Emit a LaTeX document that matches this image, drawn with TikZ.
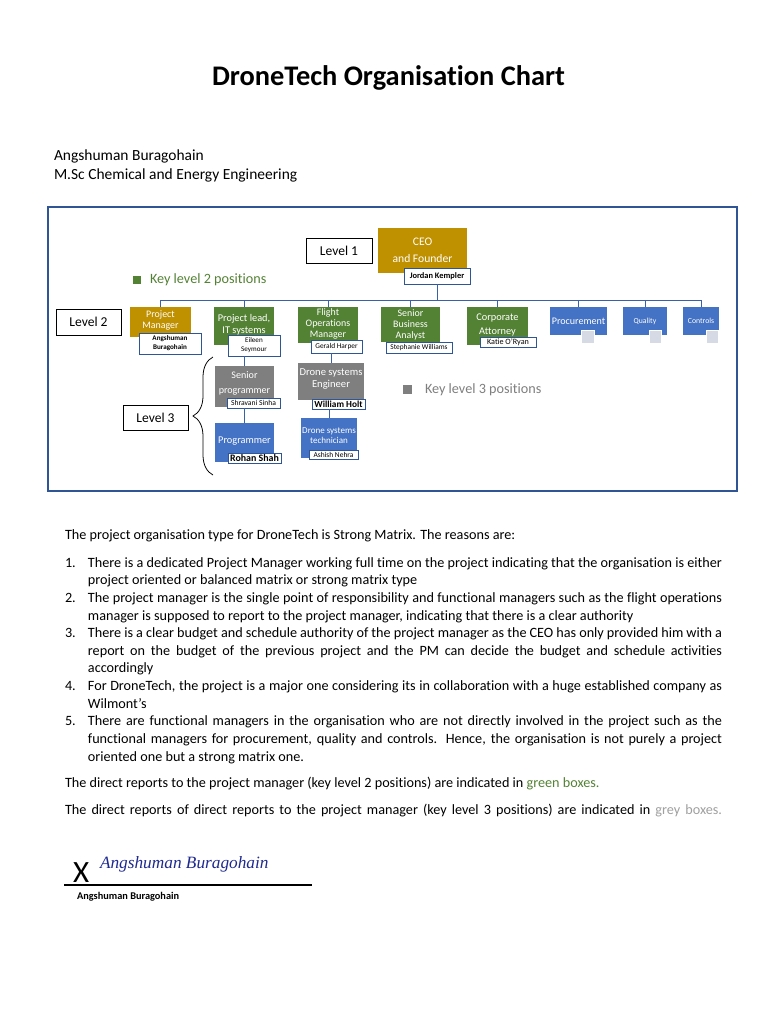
\documentclass[tikz,border=0pt]{standalone}
\usepackage{fontspec}
\setmainfont{Carlito}[Ligatures={TeX,NoCommon}]
\newfontfamily\signfont{Liberation Serif}
\usetikzlibrary{decorations.pathreplacing}
\definecolor{ceogold}{HTML}{BF9000}
\definecolor{keygreen}{HTML}{548235}
\definecolor{fnblue}{HTML}{4472C4}
\definecolor{keygrey}{HTML}{7F7F7F}
\definecolor{framblue}{HTML}{2F5597}
\definecolor{softgrey}{HTML}{A0A0A0}
\definecolor{inkblue}{HTML}{1F2A8F}
\definecolor{tabgrey}{HTML}{D6DAE4}
\begin{document}
\begin{tikzpicture}[x=0.775pt, y=-0.775pt,
  every node/.style={inner sep=0pt, outer sep=0pt},
  sz/.style 2 args={minimum width=#1*0.775pt, minimum height=#2*0.775pt},
  fs/.style 2 args={font=\fontsize{#1}{#2}\selectfont},
  rolebox/.style={rectangle, text=white, align=center},
  namebox/.style={rectangle, draw=framblue, line width=0.7pt, fill=white, text=black, align=center},
  levelbox/.style={rectangle, draw=black, line width=0.6pt, fill=white, fs={10.5}{12}},
  tabsq/.style={rectangle, draw=white, line width=0.6pt, fill=tabgrey},
  link/.style={draw=fnblue!85!black, line width=0.6pt}]
\fill[white] (0,0) rectangle (768,1024);
\useasboundingbox (0,0) rectangle (768,1024);

\node (title) [anchor=base, font=\fontsize{22}{26}\selectfont\bfseries] at (388.5,85) {DroneTech Organisation Chart};
\node (author) [anchor=base west, fs={12}{14}] at (54,160) {Angshuman Buragohain};
\node (degree) [anchor=base west, fs={12}{14}] at (54,179) {M.Sc Chemical and Energy Engineering};

\draw[framblue, line width=1.4pt] (48,207) rectangle (737,491);

\node (lvone) [levelbox, sz={66}{25}] at (339,250.5) {Level 1};
\node (lvtwo) [levelbox, sz={65}{26}] at (88.5,322) {Level 2};
\node (lvthree) [levelbox, sz={65}{25}] at (155.5,417.5) {Level 3};

\node (keytwosq) [fill=keygreen, sz={8}{8}] at (137,280) {};
\node (keytwo) [anchor=west, text=keygreen, fs={11}{13}] at (150,280) {Key level 2 positions};
\node (keythreesq) [fill=keygrey, sz={9}{9}] at (407.5,389.5) {};
\node (keythree) [anchor=west, text=keygrey, fs={11}{13}] at (425,390) {Key level 3 positions};

\node (ceo) [rolebox, fill=ceogold, sz={89}{45}, fs={9}{13}] at (422.5,250.5) {CEO\\and Founder};
\node (pm) [rolebox, fill=ceogold, sz={61}{30}, fs={7.7}{8.8}, text depth=3pt] at (160.5,321.5) {Project\\Manager};
\node (pl) [rolebox, fill=keygreen, sz={60}{38}, fs={8}{9.5}, text depth=3.5pt] at (244,326) {Project lead,\\IT systems};
\node (fo) [rolebox, fill=keygreen, sz={60}{36}, fs={7.7}{8.6}, text depth=3pt] at (328,325) {Flight\\Operations\\Manager};
\node (sba) [rolebox, fill=keygreen, sz={59}{35}, fs={7.7}{8.6}] at (410.5,324.5) {Senior\\Business\\Analyst};
\node (ca) [rolebox, fill=keygreen, sz={61}{38}, fs={8}{11.5}, text depth=3pt] at (497.5,326) {Corporate\\Attorney};
\node (proc) [rolebox, fill=fnblue, sz={57}{28}, fs={7.8}{9}] at (578.5,321) {Procurement};
\node (qual) [rolebox, fill=fnblue, sz={44}{28}, fs={6}{7}] at (645,321) {Quality};
\node (ctl) [rolebox, fill=fnblue, sz={36}{28}, fs={6}{7}] at (701,321) {Controls};
\node (sp) [rolebox, fill=keygrey, sz={59}{41}, fs={7.8}{12}, text depth=5.8pt] at (244.5,386.5) {Senior\\programmer};
\node (prg) [rolebox, fill=fnblue, sz={59}{39}, fs={8}{9}, text depth=4pt] at (244.5,442.5) {Programmer};
\node (dse) [rolebox, fill=keygrey, sz={66}{37}, fs={8.2}{8.8}, text depth=5pt] at (331,381.5) {Drone systems\\Engineer};
\node (dst) [rolebox, fill=fnblue, sz={56}{40}, fs={7}{8}, text depth=4pt] at (329,438) {Drone systems\\technician};

\node (psq) [tabsq, sz={13}{13}] at (587.5,336.5) {};
\node (qsq) [tabsq, sz={12}{13}] at (655,336.5) {};
\node (csq) [tabsq, sz={12}{13}] at (712,336.5) {};

\node (jk) [namebox, sz={66}{16}, font=\fontsize{6.5}{7.5}\selectfont\bfseries] at (437,276) {Jordan Kempler};
\node (ab) [namebox, sz={62}{21}, font=\fontsize{5.5}{7}\selectfont\bfseries] at (170,343.5) {Angshuman\\Buragohain};
\node (es) [namebox, sz={52}{21}, fs={5.5}{7}] at (254,345.5) {Eileen\\Seymour};
\node (gh) [namebox, sz={51}{13}, fs={5.7}{6.5}] at (336.5,346.5) {Gerald Harper};
\node (sw) [namebox, sz={66}{11}, fs={5.7}{6.5}] at (419,347.5) {Stephanie Williams};
\node (ko) [namebox, sz={56}{10}, fs={6.3}{7}] at (508,342) {Katie O’Ryan};
\node (ss) [namebox, sz={53}{10}, fs={5.9}{6.5}] at (253.5,403) {Shravani Sinha};
\node (rs) [namebox, sz={53}{10}, font=\fontsize{7.7}{8.5}\selectfont\bfseries] at (254.5,458) {Rohan Shah};
\node (wh) [namebox, sz={53}{10}, font=\fontsize{7.2}{8}\selectfont\bfseries] at (338.5,404) {William Holt};
\node (an) [namebox, sz={49}{9}, fs={5.8}{6.5}] at (333.5,454.5) {Ashish Nehra};

\coordinate (bus) at (0,300);
\draw[link] (jk.south) -- (jk.south |- bus);
\draw[link] (pm.north) -- (pm.north |- bus) -- (ctl.north |- bus) -- (ctl.north);
\foreach \n in {pl,fo,sba,ca,proc,qual}
  \draw[link] (\n.north |- bus) -- (\n.north);
\draw[link] (sp.north |- es.south) -- (sp.north);
\draw[link] (prg.north |- ss.south) -- (prg.north);
\draw[link] (dse.north |- gh.south) -- (dse.north);
\draw[link] (dst.north |- wh.south) -- (dst.north);

\draw[decorate, decoration={brace, amplitude=15.5pt, aspect=0.5}, line width=0.6pt] (213,475) -- (213,357);

\node (body) [anchor=north west, text width=509.2pt, align=justify, fs={11}{13.65}] at (65,527) {%
\parindent=0pt \tolerance=10000 \hbadness=10000 \hyphenpenalty=10000 \exhyphenpenalty=10000
\strut The project organisation type for DroneTech is Strong Matrix. The reasons are:\par
\vspace{8pt}
\hangindent=17.8pt\hangafter=1 \makebox[17.8pt][l]{1.}There is a dedicated Project Manager working full time on the project indicating that the organisation is either\linebreak project oriented or balanced matrix or strong matrix type\par
\hangindent=17.8pt\hangafter=1 \makebox[17.8pt][l]{2.}The project manager is the single point of responsibility and functional managers such as the flight operations\linebreak manager is supposed to report to the project manager, indicating that there is a clear authority\par
\hangindent=17.8pt\hangafter=1 \makebox[17.8pt][l]{3.}There is a clear budget and schedule authority of the project manager as the CEO has only provided him with a\linebreak report on the budget of the previous project and the PM can decide the budget and schedule activities\linebreak accordingly\par
\hangindent=17.8pt\hangafter=1 \makebox[17.8pt][l]{4.}For DroneTech, the project is a major one considering its in collaboration with a huge established company as\linebreak Wilmont’s\par
\hangindent=17.8pt\hangafter=1 \makebox[17.8pt][l]{5.}There are functional managers in the organisation who are not directly involved in the project such as the\linebreak functional managers for procurement, quality and controls. Hence, the organisation is not purely a project\linebreak oriented one but a strong matrix one.\par
\vspace{6.5pt}
The direct reports to the project manager (key level 2 positions) are indicated in \textcolor{keygreen}{green boxes.}\par
\vspace{8pt}
{\parfillskip=0pt The direct reports of direct reports to the project manager (key level 3 positions) are indicated in \textcolor{softgrey}{grey boxes.}\par}
};

\node (crossx) [anchor=base west, fs={24}{28}] at (73,882) {X};
\node (sign) [anchor=base west, text=inkblue, font=\signfont\itshape\fontsize{13.4}{16}\selectfont] at (100,868) {Angshuman Buragohain};
\draw[line width=1.1pt] (64,885) -- (312,885);
\node (signame) [anchor=base west, font=\fontsize{8}{9.6}\selectfont\bfseries] at (77,899) {Angshuman Buragohain};
\end{tikzpicture}
\end{document}
